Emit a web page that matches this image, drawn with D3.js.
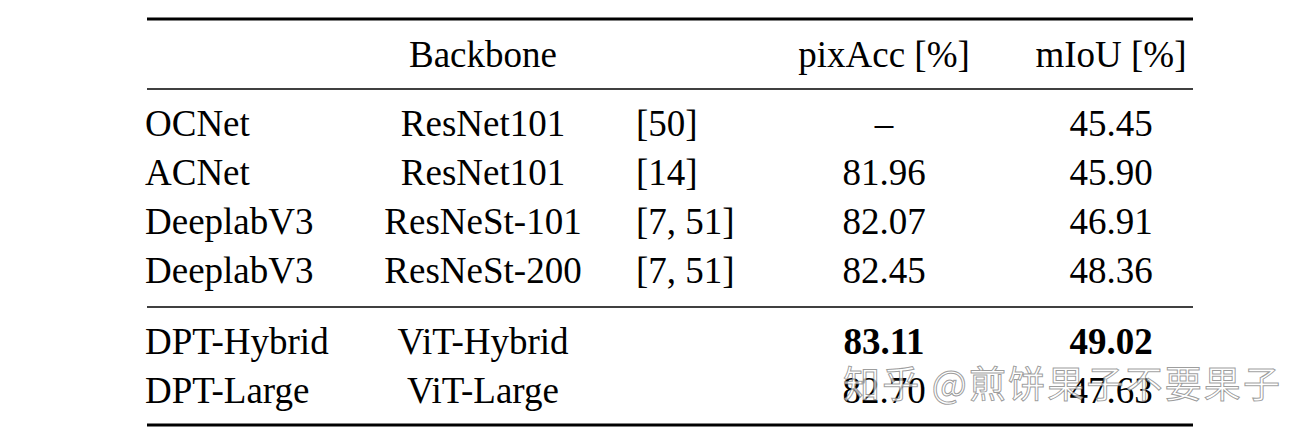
<!DOCTYPE html>
<html><head><meta charset="utf-8">
<script src="https://cdn.jsdelivr.net/npm/d3@7"></script>
<style>body{margin:0;background:#fff}svg{display:block}</style>
</head><body>
<svg id="chart" width="1314" height="440"></svg>
<script>
var headers = ["", "Backbone", "", "pixAcc [%]", "mIoU [%]"];
var methods = ["OCNet", "ACNet", "DeeplabV3", "DeeplabV3", "DPT-Hybrid", "DPT-Large"];
var backbones = ["ResNet101", "ResNet101", "ResNeSt-101", "ResNeSt-200", "ViT-Hybrid", "ViT-Large"];
var refs = ["[50]", "[14]", "[7, 51]", "[7, 51]", "", ""];
var pixAcc = ["–", "81.96", "82.07", "82.45", "83.11", "82.70"];
var mIoU = ["45.45", "45.90", "46.91", "48.36", "49.02", "47.63"];
var boldRows = [4];
var groups = [0, 0, 0, 0, 1, 1];

var svg = d3.select("#chart");
var font = "'Liberation Serif','Times New Roman',serif";
var left = 147, right = 1193;

// column x positions and anchors
var cols = [
  {x: 145, anchor: "start"},
  {x: 483, anchor: "middle"},
  {x: 636, anchor: "start"},
  {x: 884, anchor: "middle"},
  {x: 1111, anchor: "middle"}
];

var rowY = d3.scaleLinear().domain([0, 1]).range([123, 172]);
var groupGap = 22;
function yOf(i) { return rowY(i) + groups[i] * groupGap; }

function rule(y, w) {
  svg.append("line").attr("x1", left).attr("x2", right)
    .attr("y1", y).attr("y2", y).attr("stroke", "#000").attr("stroke-width", w);
}
rule(19, 3);
rule(89, 1.5);
rule(307, 1.5);
rule(425, 3);

svg.selectAll("text.h").data(headers).enter().append("text")
  .attr("class", "h")
  .attr("x", function(d, i) { return cols[i].x; })
  .attr("y", 54).attr("dy", "0.35em")
  .attr("text-anchor", function(d, i) { return cols[i].anchor; })
  .style("font-family", font).style("font-size", "37px")
  .text(function(d) { return d; });

var rows = methods.map(function(m, i) { return [m, backbones[i], refs[i], pixAcc[i], mIoU[i]]; });

rows.forEach(function(r, i) {
  svg.selectAll("text.r" + i).data(r).enter().append("text")
    .attr("x", function(d, j) { return cols[j].x; })
    .attr("y", yOf(i)).attr("dy", "0.35em")
    .attr("text-anchor", function(d, j) { return cols[j].anchor; })
    .style("font-family", font).style("font-size", "37px")
    .style("font-weight", function(d, j) { return (j >= 3 && boldRows.indexOf(i) >= 0) ? "bold" : "normal"; })
    .text(function(d) { return d; });
});

// watermark
svg.append("text")
  .attr("x", 843).attr("y", 385).attr("dy", "0.35em")
  .style("font-family", "'Noto Sans CJK SC',sans-serif").style("font-size", "37px")
  .attr("textLength", 437).attr("lengthAdjust", "spacing")
  .attr("fill", "rgba(255,255,255,0.7)").attr("stroke", "rgba(90,90,90,0.6)").attr("stroke-width", 1)
  .text("知乎 @煎饼果子不要果子");
</script>
</body></html>
